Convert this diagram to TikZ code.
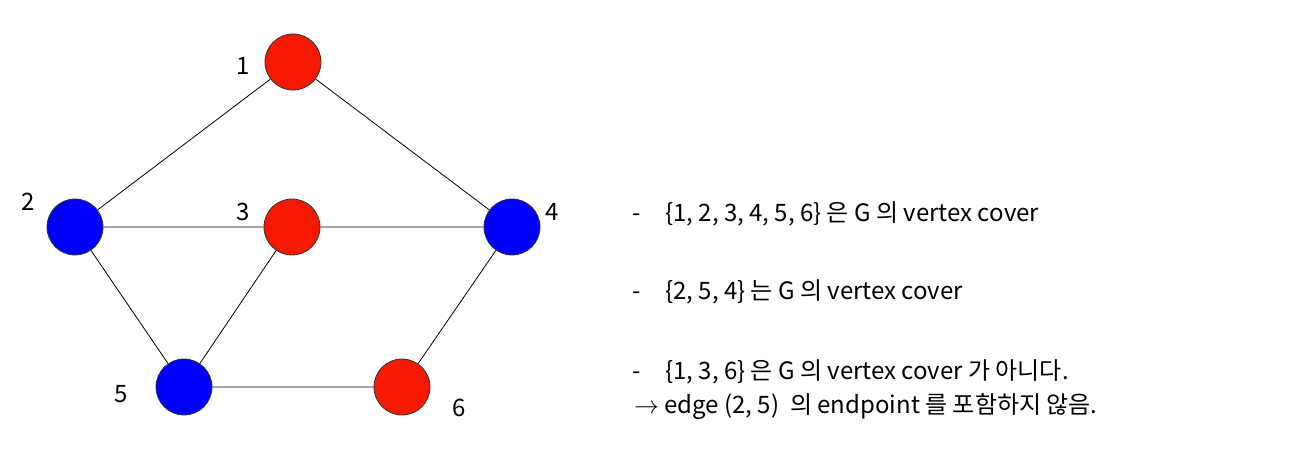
\documentclass[tikz,border=0pt]{standalone}
\usepackage{fontspec}
\setmainfont{Noto Sans CJK KR}
\begin{document}
\begin{tikzpicture}[x=1pt,y=-1pt,
 v/.style={circle,draw=black!80,line width=0.8pt,minimum size=56pt,inner sep=0pt},
 r/.style={v,fill={rgb,255:red,245;green,25;blue,0}},
 b/.style={v,fill={rgb,255:red,0;green,0;blue,255}},
 lab/.style={font=\fontsize{24}{28}\selectfont},
 txt/.style={font=\fontsize{24}{28}\selectfont,anchor=base west,inner sep=0pt},
 e/.style={line width=0.8pt}]
\useasboundingbox (0,0) rectangle (1314,462);
\node[r] (n1) at (293,62) {};
\node[b] (n2) at (75,227) {};
\node[r] (n3) at (292,227) {};
\node[b] (n4) at (512,227) {};
\node[b] (n5) at (184,387) {};
\node[r] (n6) at (402,387) {};
\draw[e] (n1)--(n2) (n1)--(n4) (n2)--(n3) (n3)--(n4) (n2)--(n5) (n3)--(n5) (n5)--(n6) (n6)--(n4);
\node[lab] (l1) at (243,66) {1};
\node[lab] (l2) at (28,202) {2};
\node[lab] (l3) at (243,212) {3};
\node[lab] (l4) at (552,212) {4};
\node[lab] (l5) at (121,394) {5};
\node[lab] (l6) at (459,408) {6};
\node[txt] (d1) at (632,222) {-};
\node[txt] (t1) at (665,222) {\{1, 2, 3, 4, 5, 6\} 은 G 의 vertex cover};
\node[txt] (d2) at (632,299) {-};
\node[txt] (t2) at (665,299) {\{2, 5, 4\} 는 G 의 vertex cover};
\node[txt] (d3) at (632,379) {-};
\node[txt] (t3) at (665,379) {\{1, 3, 6\} 은 G 의 vertex cover 가 아니다.};
\node[txt] (t4) at (634,413) {$\rightarrow$ edge (2, 5)~ 의 endpoint 를 포함하지 않음.};
\end{tikzpicture}
\end{document}
